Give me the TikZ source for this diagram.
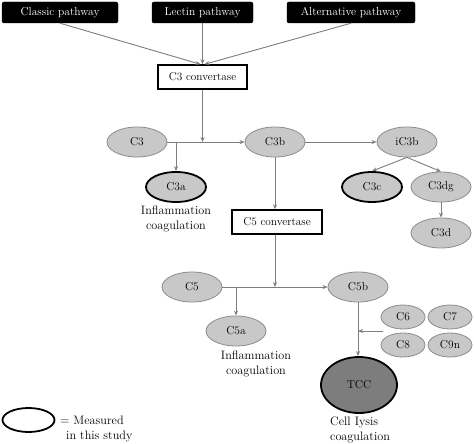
\documentclass[tikz,border=0pt]{standalone}
\usetikzlibrary{shapes.geometric,arrows.meta}
\definecolor{egray}{RGB}{200,200,200}
\definecolor{ebord}{RGB}{140,140,140}
\definecolor{lgray}{RGB}{125,125,125}
\definecolor{tccgray}{RGB}{125,125,125}
\begin{document}
\begin{tikzpicture}[x=1pt,y=-1pt,
  pathbox/.style={draw=black,fill=black,rounded corners=2pt,text=white,minimum height=21pt,inner sep=2pt,font=\fontsize{11.5}{13}\selectfont},
  convbox/.style={draw=black,line width=1.4pt,fill=white,minimum height=24pt,inner sep=3pt,font=\fontsize{11.3}{13}\selectfont},
  comp/.style={ellipse,draw=ebord,line width=0.8pt,fill=egray,minimum width=60pt,minimum height=30pt,inner sep=0pt,font=\fontsize{11.5}{13}\selectfont},
  small/.style={comp,minimum width=44pt,minimum height=24pt},
  meas/.style={draw=black,line width=1.8pt},
  lbl/.style={align=center,font=\fontsize{12.2}{15}\selectfont,inner sep=0pt},
  conn/.style={draw=lgray,line width=0.9pt},
  arr/.style={conn,-{Stealth[length=5pt,width=4pt]}}
]
\useasboundingbox (0,0) rectangle (474,444);
\node[pathbox,minimum width=116pt] (classic) at (60,12.5) {Classic pathway};
\node[pathbox,minimum width=101pt] (lectin) at (202.5,12.5) {Lectin pathway};
\node[pathbox,minimum width=128pt] (alt) at (351,12.5) {Alternative pathway};
\node[convbox,minimum width=89pt] (c3conv) at (202.5,77) {C3 convertase};
\draw[arr] (classic.south) -- ([xshift=-2pt]c3conv.north);
\draw[arr] (lectin.south) -- (c3conv.north);
\draw[arr] (alt.south) -- ([xshift=2pt]c3conv.north);

\node[comp] (c3) at (137,142) {C3};
\node[comp] (c3b) at (275,142) {C3b};
\node[comp] (ic3b) at (407,142) {iC3b};
\coordinate (j1) at (202.5,142);
\coordinate (j2) at (176,142);
\draw[arr] (c3.east) -- (c3b.west);
\draw[arr] (c3conv.south) -- (j1);
\draw[arr] (c3b.east) -- (ic3b.west);

\node[comp,meas] (c3a) at (176,187) {C3a};
\draw[arr] (j2) -- (c3a.north);
\node[lbl] (inf1) at (176,219) {Inflammation\\coagulation};

\node[comp,meas] (c3c) at (372,187) {C3c};
\node[comp] (c3dg) at (441,187) {C3dg};
\node[comp] (c3d) at (441,233) {C3d};
\draw[arr] (ic3b.south) -- (c3c.north);
\draw[arr] (ic3b.south) -- (c3dg.north);
\draw[arr] (c3dg.south) -- (c3d.north);

\node[convbox,minimum width=90pt] (c5conv) at (277,222) {C5 convertase};
\draw[arr] (c3b.south) -- (c5conv.north -| c3b.south);

\node[comp] (c5) at (192,287) {C5};
\node[comp] (c5b) at (358,287) {C5b};
\coordinate (j3) at (275,287);
\coordinate (j4) at (236,287);
\draw[arr] (c5.east) -- (c5b.west);
\draw[arr] (c5conv.south -| j3) -- (j3);
\node[comp] (c5a) at (236,331) {C5a};
\draw[arr] (j4) -- (c5a.north);
\node[lbl] (inf2) at (256,363.5) {Inflammation\\coagulation};

\node[small] (c6) at (403,317) {C6};
\node[small] (c7) at (450,317) {C7};
\node[small] (c8) at (403,345) {C8};
\node[small] (c9n) at (450,345) {C9n};
\node[comp,meas,fill=tccgray,minimum width=76pt,minimum height=56pt] (tcc) at (359,385) {TCC};
\coordinate (j5) at (358,331);
\coordinate (j6) at (383,331);
\draw[arr] (c5b.south) -- (tcc.north -| c5b.south);
\draw[arr] (j6) -- (j5);
\node[lbl,align=left,anchor=west] (lysis) at (330,429.5) {Cell Iysis\\coagulation};

\node[ellipse,meas,fill=white,minimum width=52pt,minimum height=24pt,inner sep=0pt] (leg) at (28.5,420) {};
\node[lbl,align=left,anchor=west] (legt) at (60,429.5) {= Measured\\\hspace*{6pt}in this study};
\end{tikzpicture}
\end{document}
